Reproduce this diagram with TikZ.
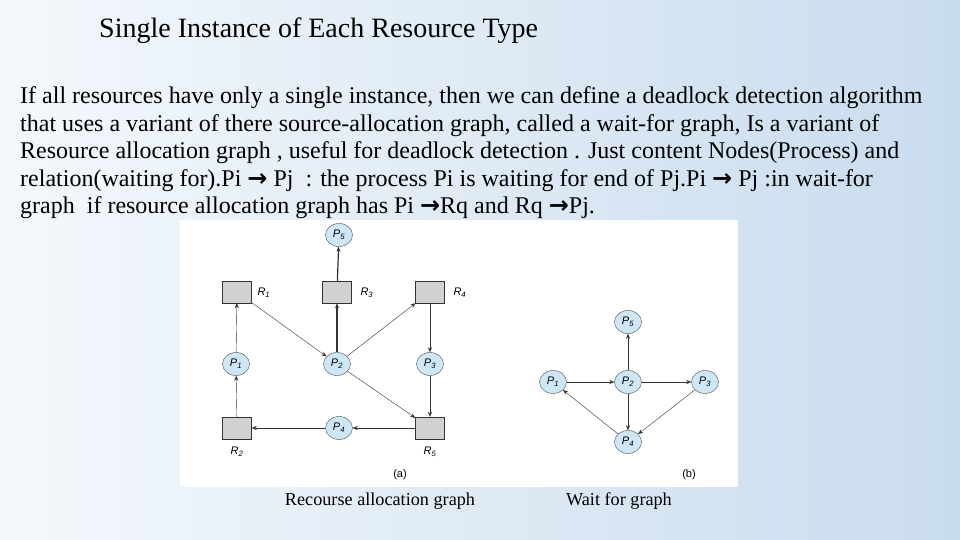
\documentclass[tikz,border=0pt]{standalone}
\usepackage{fontspec}
\setmainfont{Liberation Serif}
\newfontfamily\lsans{Liberation Sans}
\newfontfamily\dvs{DejaVu Sans}
\usetikzlibrary{arrows.meta,shapes.geometric}
\definecolor{bgA}{HTML}{F4F8FC}
\definecolor{bgB}{HTML}{C9DCEE}
\definecolor{procfill}{HTML}{CDE7F7}
\newcommand{\ar}{{\dvs\bfseries →}}
\newcommand{\pp}[1]{P\textsubscript{#1}}
\tikzset{
 proc/.style={ellipse,draw=black!70,fill=procfill,minimum width=27pt,minimum height=23pt,inner sep=0pt,font=\lsans\itshape\fontsize{11}{11}\selectfont},
 res/.style={rectangle,draw=black!80,fill=black!18,minimum width=29pt,minimum height=22pt,inner sep=0pt},
 lab/.style={font=\lsans\itshape\fontsize{11}{11}\selectfont},
 edge/.style={draw=black!80,-{Stealth[length=5pt,width=4pt]}},
 txt/.style={anchor=west,inner sep=0pt,font=\fontsize{24}{24}\selectfont},
}
\begin{document}
\begin{tikzpicture}[x=1pt,y=-1pt]
\shade[left color=bgA,right color=bgB] (0,0) rectangle (960,540);
\useasboundingbox (0,0) rectangle (960,540);
\fill[white] (180,220) rectangle (738,487);
\node[txt,font=\fontsize{28}{28}\selectfont] (title) at (99,31) {Single Instance of Each Resource Type};
\node[txt] (l1) at (20,98) {If all resources have only a single instance, then we can define a deadlock detection algorithm};
\node[txt] (l2) at (20,125.5) {that uses a variant of there source-allocation graph, called a wait-for graph, Is a variant of};
\node[txt] (l3) at (20,153) {Resource allocation graph , useful for deadlock detection . Just content Nodes(Process) and};
\node[txt] (l4) at (20,180.5) {relation(waiting for).Pi \ar\ Pj \ : the process Pi is waiting for end of Pj.Pi \ar\ Pj :in wait-for};
\node[txt] (l5) at (20,208) {graph \ if resource allocation graph has Pi \ar Rq and Rq \ar Pj.};
% (a)
\node[proc] (aP5) at (339,235) {\pp5};
\node[res] (R1) at (237,292) {};
\node[res] (R3) at (337,292) {};
\node[res] (R4) at (430,292) {};
\node[lab,anchor=west] (lR1) at (254,293) {R\textsubscript{1}};
\node[lab,anchor=west] (lR3) at (357,293) {R\textsubscript{3}};
\node[lab,anchor=west] (lR4) at (450,293) {R\textsubscript{4}};
\node[proc] (aP1) at (236,364) {\pp1};
\node[proc] (aP2) at (337,364) {\pp2};
\node[proc] (aP3) at (430,364) {\pp3};
\node[res] (R2) at (237,428) {};
\node[proc] (aP4) at (339,428) {\pp4};
\node[res] (R5) at (430,428) {};
\node[lab] (lR2) at (237,452) {R\textsubscript{2}};
\node[lab] (lR5) at (430,452) {R\textsubscript{5}};
\node[font=\lsans\fontsize{11}{11}\selectfont] (la) at (400,475) {(a)};
\draw[edge,line width=1.2pt] (R3) -- (aP5);
\draw[edge,line width=1.2pt] (aP2) -- (R3);
\draw[edge] (R1) -- (aP2);
\draw[edge] (aP2) -- (R4);
\draw[edge] (R4) -- (aP3);
\draw[edge] (aP3) -- (R5);
\draw[edge] (aP2) -- (R5);
\draw[edge] (aP1) -- (R1);
\draw[edge] (R2) -- (aP1);
\draw[edge] (R5) -- (aP4);
\draw[edge] (aP4) -- (R2);
% (b)
\node[proc] (bP5) at (628,322) {\pp5};
\node[proc] (bP1) at (553,382) {\pp1};
\node[proc] (bP2) at (628,382) {\pp2};
\node[proc] (bP3) at (705,382) {\pp3};
\node[proc] (bP4) at (628,442) {\pp4};
\node[font=\lsans\fontsize{11}{11}\selectfont] (lb) at (689,475) {(b)};
\draw[edge] (bP2) -- (bP5);
\draw[edge] (bP1) -- (bP2);
\draw[edge] (bP2) -- (bP3);
\draw[edge] (bP2) -- (bP4);
\draw[edge] (bP3) -- (bP4);
\draw[edge] (bP4) -- (bP1);
% captions
\node[font=\fontsize{18.2}{18}\selectfont] (c1) at (380,501) {Recourse allocation graph};
\node[font=\fontsize{18.2}{18}\selectfont] (c2) at (619,501) {Wait for graph};
\end{tikzpicture}
\end{document}
